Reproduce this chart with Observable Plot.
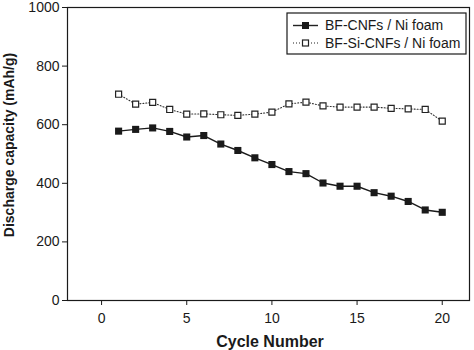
<!DOCTYPE html>
<html><head><meta charset="utf-8">
<script src="https://cdn.jsdelivr.net/npm/d3@7"></script>
<script src="https://cdn.jsdelivr.net/npm/@observablehq/plot@0.6"></script>
<style>body{margin:0;background:#fff}</style>
</head><body><div id="chart"></div>
<script>
const cycles = [1,2,3,4,5,6,7,8,9,10,11,12,13,14,15,16,17,18,19,20];
const cnf = [578,584,589,577,558,563,534,512,487,464,440,433,401,390,390,368,356,338,309,301];
const siCnf = [704,670,676,652,636,637,634,632,636,643,671,677,664,660,660,660,656,654,652,612];
const seriesNames = ["BF-CNFs / Ni foam", "BF-Si-CNFs / Ni foam"];
const yTicks = [0,200,400,600,800,1000];
const xTicks = [0,5,10,15,20];
const xTitle = "Cycle Number";
const yTitle = "Discharge capacity (mAh/g)";

const rowsA = cycles.map((c,i)=>({cycle:c, value:cnf[i]}));
const rowsB = cycles.map((c,i)=>({cycle:c, value:siCnf[i]}));
const font = "Liberation Sans, Arial, Helvetica, sans-serif";
const ink = "#1a1a1a";

const plot = Plot.plot({
  width: 474, height: 350,
  marginLeft: 67, marginRight: 5, marginTop: 7, marginBottom: 50,
  style: {fontFamily: font, fontSize: "14px", color: ink, background: "#fff"},
  x: {domain: [-2, 21.6]},
  y: {domain: [0, 1000]},
  marks: [
    Plot.axisX({ticks: xTicks, tickSize: 5, tickPadding: 8, label: null, fontSize: 14, tickFormat: d => String(d)}),
    Plot.axisY({ticks: yTicks, tickSize: 5, tickPadding: 3, label: null, fontSize: 14, tickFormat: d => String(d)}),
    Plot.frame({stroke: ink, strokeWidth: 1.2}),
    Plot.line(rowsB, {x: "cycle", y: "value", stroke: "#333", strokeWidth: 1.1, strokeDasharray: "1,2"}),
    Plot.line(rowsA, {x: "cycle", y: "value", stroke: ink, strokeWidth: 1.4}),
    Plot.dot(rowsB, {x: "cycle", y: "value", symbol: "square", r: 3.4, fill: "#fff", stroke: "#222", strokeWidth: 1.2}),
    Plot.dot(rowsA, {x: "cycle", y: "value", symbol: "square", r: 4, fill: ink, stroke: "none"})
  ]
});
document.getElementById("chart").appendChild(plot);

const svg = d3.select(plot);
// axis titles
svg.append("text").attr("transform", "translate(9,145) rotate(-90)").attr("dy", "0.35em")
  .attr("text-anchor", "middle").attr("font-family", font).attr("font-size", 14).attr("font-weight", "bold")
  .attr("fill", ink).text(yTitle);
svg.append("text").attr("x", 270).attr("y", 341).attr("dy", "0.35em")
  .attr("text-anchor", "middle").attr("font-family", font).attr("font-size", 16).attr("font-weight", "bold")
  .attr("fill", ink).text(xTitle);

// legend
const lg = svg.append("g").attr("font-family", font).attr("font-size", 14).attr("fill", ink).attr("text-anchor", "start");
lg.append("rect").attr("x", 287).attr("y", 13).attr("width", 179).attr("height", 41)
  .attr("fill", "#fff").attr("stroke", ink).attr("stroke-width", 1.2);
const rows = [
  {name: seriesNames[0], y: 25.5, dash: null, fill: ink, stroke: "none", side: 7},
  {name: seriesNames[1], y: 43, dash: "1,2", fill: "#fff", stroke: "#222", side: 6}
];
rows.forEach(r => {
  lg.append("line").attr("x1", 293).attr("x2", 318).attr("y1", r.y).attr("y2", r.y)
    .attr("stroke", "#222").attr("stroke-width", r.dash ? 1.1 : 1.4).attr("stroke-dasharray", r.dash);
  lg.append("rect").attr("x", 305.5 - r.side/2).attr("y", r.y - r.side/2).attr("width", r.side).attr("height", r.side)
    .attr("fill", r.fill).attr("stroke", r.stroke).attr("stroke-width", 1.2);
  lg.append("text").attr("x", 325).attr("y", r.y).attr("dy", "0.35em").text(r.name);
});
</script>
</body></html>
